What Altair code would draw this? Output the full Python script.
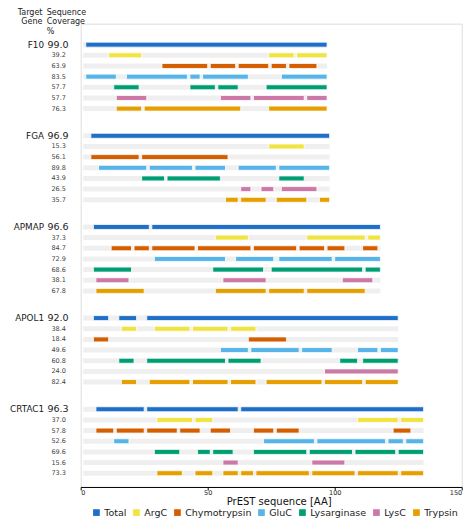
import altair as alt
import pandas as pd

genes = ["F10", "FGA", "APMAP", "APOL1", "CRTAC1"]
enzymes = ["Total", "ArgC", "Chymotrypsin", "GluC", "Lysarginase", "LysC", "Trypsin"]
colors = ["#1f6fc9", "#f0e442", "#d55e00", "#56b4e9", "#009e73", "#cc79a7", "#e69f00"]
lengths = [97, 98, 118, 125, 135]

coverage_F10 = [99.0, 39.2, 63.9, 83.5, 57.7, 57.7, 76.3]
coverage_FGA = [96.9, 15.3, 56.1, 89.8, 43.9, 26.5, 35.7]
coverage_APMAP = [96.6, 37.3, 84.7, 72.9, 68.6, 38.1, 67.8]
coverage_APOL1 = [92.0, 38.4, 18.4, 49.6, 60.8, 24.0, 82.4]
coverage_CRTAC1 = [96.3, 37.0, 57.8, 52.6, 69.6, 15.6, 73.3]

# covered peptide regions (start, end) in AA, per enzyme in the order of `enzymes`
seg_F10 = [
    [(2, 97)],
    [(11, 24), (74, 84), (85, 97)],
    [(32, 50), (51, 61), (62, 74), (75, 81), (82, 93)],
    [(2, 14), (18, 42), (43, 47), (48, 66), (79, 97)],
    [(13, 23), (43, 53), (54, 62), (73, 97)],
    [(14, 26), (55, 67), (68, 88), (89, 97)],
    [(14, 24), (25, 63), (74, 97)],
]
seg_FGA = [
    [(4, 98)],
    [(74, 88)],
    [(4, 23), (24, 58)],
    [(7, 26), (27, 44), (45, 57), (62, 77), (78, 98)],
    [(24, 33), (34, 55), (78, 88)],
    [(63, 67), (71, 76), (79, 93)],
    [(57, 62), (63, 73), (77, 89), (94, 98)],
]
seg_APMAP = [
    [(5, 27), (28, 118)],
    [(53, 66), (89, 112), (113, 118)],
    [(12, 20), (21, 27), (28, 45), (46, 67), (68, 85), (86, 96), (97, 104), (111, 117)],
    [(29, 57), (61, 76), (78, 99), (100, 118)],
    [(5, 20), (52, 72), (75, 111), (112, 118)],
    [(6, 19), (56, 73), (103, 115)],
    [(6, 25), (53, 73), (74, 88), (89, 112)],
]
seg_APOL1 = [
    [(5, 11), (15, 22), (26, 125)],
    [(16, 22), (29, 43), (44, 58), (59, 69)],
    [(5, 11), (66, 81)],
    [(55, 66), (67, 86), (87, 99), (109, 117), (118, 125)],
    [(15, 21), (26, 57), (58, 71), (102, 109), (111, 125)],
    [(96, 125)],
    [(16, 22), (27, 43), (44, 58), (59, 69), (73, 95), (96, 111), (112, 125)],
]
seg_CRTAC1 = [
    [(6, 25), (26, 62), (63, 135)],
    [(30, 44), (45, 52), (109, 125), (126, 135)],
    [(6, 13), (14, 25), (26, 38), (39, 47), (51, 59), (68, 76), (77, 86), (123, 130)],
    [(13, 19), (72, 92), (93, 120), (121, 127), (128, 135)],
    [(29, 39), (46, 51), (52, 60), (68, 89), (90, 107), (108, 124), (125, 135)],
    [(56, 62), (91, 104)],
    [(30, 40), (45, 52), (56, 62), (63, 68), (69, 90), (91, 108), (109, 125), (126, 135)],
]

coverages = [coverage_F10, coverage_FGA, coverage_APMAP, coverage_APOL1, coverage_CRTAC1]
segments = [seg_F10, seg_FGA, seg_APMAP, seg_APOL1, seg_CRTAC1]

GAP = 8.55  # rows per gene group (7 rows + spacing)

bg_rows, seg_rows, lab_rows = [], [], []
for gi, gene in enumerate(genes):
    for ri, enz in enumerate(enzymes):
        yp = gi * GAP + ri
        bg_rows.append({"gene": gene, "enzyme": enz, "start": 1, "end": lengths[gi], "ypos": yp})
        for s, e in segments[gi][ri]:
            seg_rows.append({"gene": gene, "enzyme": enz, "start": s, "end": e, "ypos": yp})
        lab_rows.append({"gene": gene, "enzyme": enz, "ypos": yp,
                         "cov": f"{coverages[gi][ri]:.1f}", "total": ri == 0})

bg_df = pd.DataFrame(bg_rows)
seg_df = pd.DataFrame(seg_rows)
lab_df = pd.DataFrame(lab_rows)

yscale = alt.Scale(domain=[-1.5, 41.02], reverse=True, nice=False, zero=False)
xscale = alt.Scale(domain=[0, 150], nice=False, zero=True)

bg = alt.Chart(bg_df).mark_bar(size=5, color="#efefef").encode(
    x=alt.X("start:Q", scale=xscale,
            axis=alt.Axis(title="PrEST sequence [AA]", values=[0, 50, 100, 150], grid=False,
                          domainColor="black", tickColor="black", tickSize=3,
                          labelFontSize=6.5, labelPadding=0, labelColor="#222",
                          titleFontSize=10, titleFontWeight="normal", titleColor="#111",
                          titleX=198, titleY=14.6, titleBaseline="middle")),
    x2="end:Q",
    y=alt.Y("ypos:Q", scale=yscale, axis=None),
)

seg = alt.Chart(seg_df).mark_bar(size=5, stroke="white", strokeWidth=0.8).encode(
    x=alt.X("start:Q", scale=xscale),
    x2="end:Q",
    y=alt.Y("ypos:Q", scale=yscale, axis=None),
    color=alt.Color("enzyme:N", scale=alt.Scale(domain=enzymes, range=colors),
                    legend=alt.Legend(title=None, orient="none", legendX=11, legendY=483.8,
                                      direction="horizontal", symbolType="square",
                                      symbolSize=45, symbolStrokeWidth=0, labelFontSize=9.5,
                                      columnPadding=5, labelOffset=3, labelColor="#222")),
)

gene_text = alt.Chart(lab_df).transform_filter("datum.total").mark_text(
    align="right", baseline="middle", fontSize=8.8, color="#1a1a1a"
).encode(x=alt.value(-36.7), y=alt.Y("ypos:Q", scale=yscale), text="gene:N")

cov_total = alt.Chart(lab_df).transform_filter("datum.total").mark_text(
    align="center", baseline="middle", fontSize=9.5, color="#1a1a1a"
).encode(x=alt.value(-22.7), y=alt.Y("ypos:Q", scale=yscale), text="cov:N")

cov_small = alt.Chart(lab_df).transform_filter("!datum.total").mark_text(
    align="center", baseline="middle", fontSize=6.5, color="#444"
).encode(x=alt.value(-22), y=alt.Y("ypos:Q", scale=yscale), text="cov:N")

one = pd.DataFrame({"h": [0]})
head1 = alt.Chart(one).mark_text(
    text=["Target", "Gene"], align="right", baseline="alphabetic",
    fontSize=8, lineHeight=9.3, color="#222"
).encode(x=alt.value(-38.2), y=alt.value(-8.66))
head2 = alt.Chart(one).mark_text(
    text=["Sequence", "Coverage", "%"], align="left", baseline="alphabetic",
    fontSize=8, lineHeight=9.3, color="#222"
).encode(x=alt.value(-34), y=alt.value(-8.66))

chart = alt.layer(bg, seg, gene_text, cov_total, cov_small, head1, head2).properties(
    width=381, height=463.3,
    autosize=alt.AutoSizeParams(type="none"),
    padding={"left": 72.7, "top": 15.66, "right": 4.3, "bottom": 31.04},
).configure_view(stroke=None).configure(font="DejaVu Sans")

chart.save("out.html", embed_options={"renderer": "svg", "actions": False})
